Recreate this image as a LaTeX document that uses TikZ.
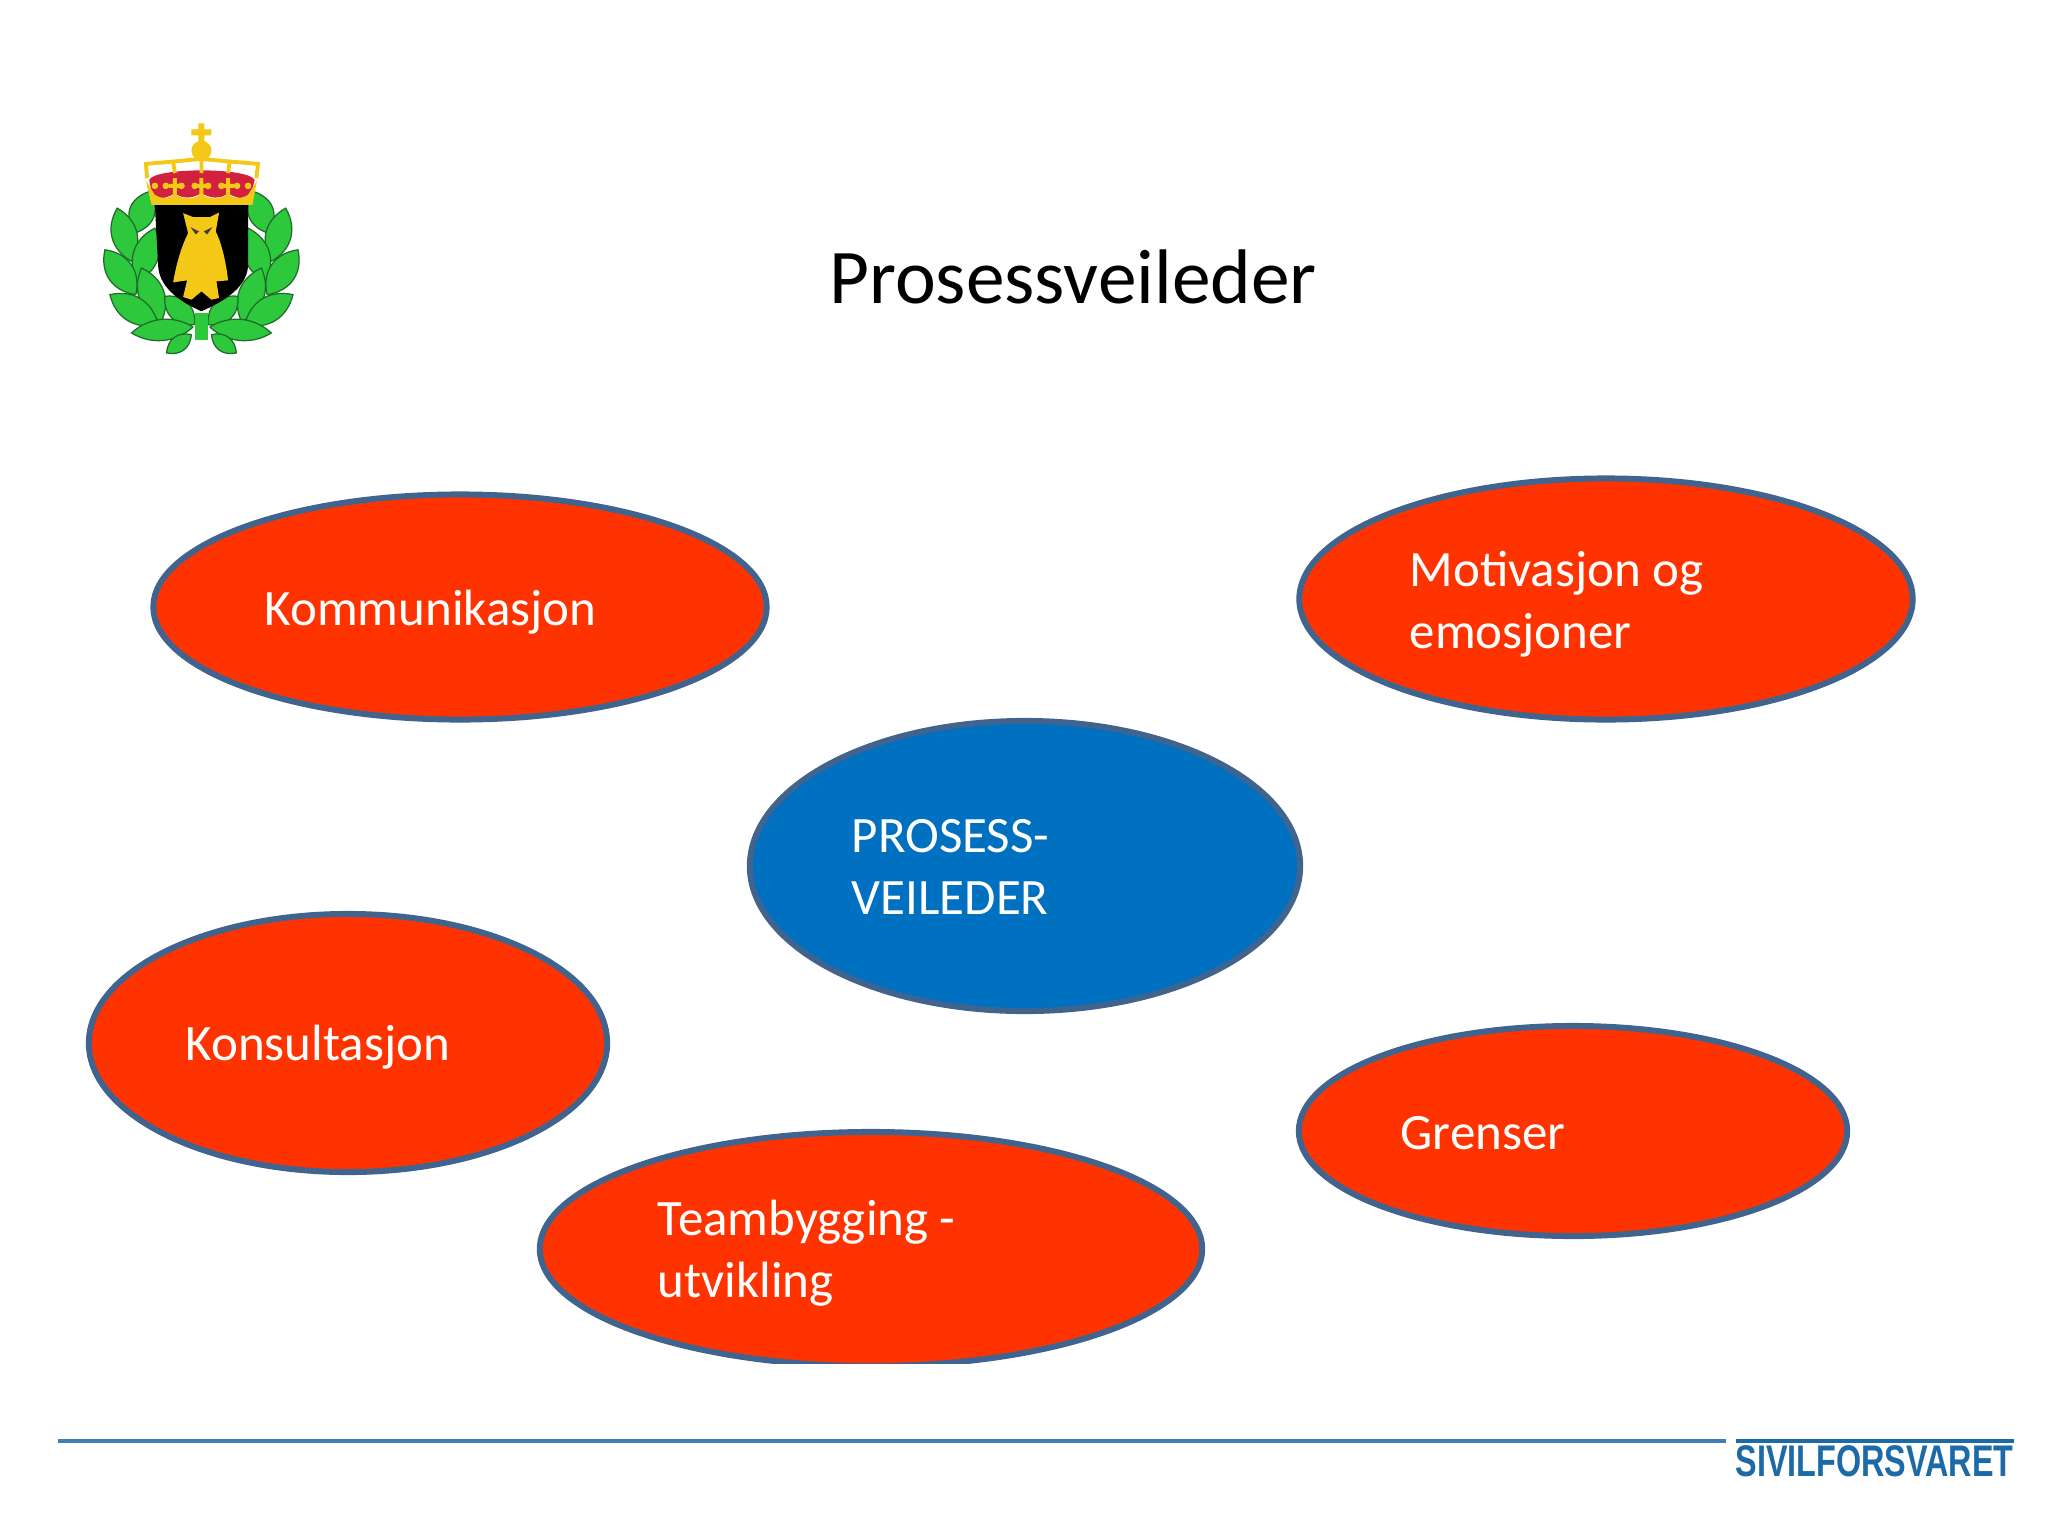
\documentclass[tikz,border=0pt]{standalone}
\usepackage{fontspec}
\setmainfont{Carlito}
\newfontfamily\brandfont{Liberation Sans}
\usepackage{xcolor}
\usetikzlibrary{shapes.geometric, positioning, calc}
\definecolor{oransje}{HTML}{FF3300}
\definecolor{blaa}{HTML}{0070C0}
\definecolor{kant}{HTML}{41648F}
\definecolor{strek}{HTML}{3F7FB3}
\definecolor{merke}{HTML}{1C6BA6}
\definecolor{blad}{HTML}{2DC83C}
\definecolor{bladkant}{HTML}{1E6B2A}
\definecolor{gull}{HTML}{F4C816}
\definecolor{kroneroed}{HTML}{D2203F}
\tikzstyle{oval} = [ellipse, inner sep=0pt, line width=1.7pt, draw=kant, fill=oransje]
\tikzstyle{midtoval} = [oval, fill=blaa]
\tikzstyle{tekst} = [anchor=base west, inner sep=0pt, align=left, text=white, font=\fontsize{14.5}{17.6}\selectfont]
\tikzstyle{leaf} = [fill=blad, draw=bladkant, line width=0.35pt]
\newcommand{\blad}[3]{% base, tip, control offset
  \path[leaf] (#1) .. controls ($(#1)!0.3!(#2)!#3!90:(#2)$) and ($(#1)!0.7!(#2)!#3!90:(#2)$) .. (#2)
    .. controls ($(#1)!0.7!(#2)!#3!-90:(#2)$) and ($(#1)!0.3!(#2)!#3!-90:(#2)$) .. (#1);}
\begin{document}
\begin{tikzpicture}[x=0.01cm, y=-0.01cm]
\useasboundingbox (0,0) rectangle (2048,1536);

% crest
\begin{scope}[shift={(60,90)}, x=0.003333cm, y=-0.003333cm]
\foreach \s in {1,-1} {
\begin{scope}[shift={(425,0)}, xscale=\s, shift={(-425,0)}]
\foreach \ax/\ay/\bx/\by/\w in {225/430/268/305/4.8pt, 215/515/172/355/4.8pt, 232/575/285/415/4.8pt, 228/615/135/480/5pt,
    305/695/245/535/4.8pt, 295/705/150/615/4.8pt, 405/705/315/620/4.2pt, 400/712/215/730/4pt, 395/735/320/790/3pt} {
  \blad{\ax,\ay}{\bx,\by}{\w}
}
\end{scope}
}
\fill[blad] (405,670) rectangle (445,750);
% shield
\fill[black] (285,345) -- (565,345) -- (565,530) .. controls (560,600) and (480,640) .. (425,665)
  .. controls (370,640) and (300,600) .. (295,530) -- cycle;
% owl
\fill[gull] (370,370) -- (400,382) -- (450,382) -- (478,368) -- (468,425) .. controls (490,470) and (500,530) .. (505,572)
  -- (470,575) -- (478,625) -- (455,630) -- (425,605) -- (395,630) -- (370,622) -- (382,572) -- (340,578)
  .. controls (350,520) and (365,470) .. (385,430) -- cycle;
\fill[black!75] (392,412) -- (418,425) -- (408,434) -- cycle;
\fill[black!75] (458,412) -- (432,425) -- (442,434) -- cycle;
% crown
\fill[kroneroed] (268,270) .. controls (285,232) and (565,232) .. (585,270) -- (572,322) .. controls (540,330) and (520,320) .. (505,310)
  .. controls (480,330) and (450,325) .. (425,310) .. controls (400,325) and (370,330) .. (345,310) .. controls (330,320) and (310,330) .. (278,322) -- cycle;
\fill[gull] (258,272) -- (285,315) .. controls (310,330) and (330,325) .. (345,312) .. controls (370,330) and (400,330) .. (425,312)
  .. controls (450,330) and (480,330) .. (505,312) .. controls (520,325) and (540,330) .. (565,315) -- (592,272) -- (578,345) -- (275,345) -- cycle;
\foreach \x in {285,318,365,405,445,485,532,565} \fill[gull] (\x,288) circle (10);
\foreach \x in {345,425,505} \fill[gull] (\x-6,265) rectangle (\x+6,315) (\x-18,282) rectangle (\x+18,294);
\draw[gull, line width=1.1pt] (262,265) -- (258,222) -- (340,215) -- (425,207) -- (510,215) -- (595,222) -- (590,265)
  (340,215) -- (345,250) (425,207) -- (425,250) (510,215) -- (505,250);
\fill[gull] (425,182) circle (30);
\fill[gull] (416,100) rectangle (434,170) (395,118) rectangle (455,136);
\end{scope}

\node (tittel) [inner sep=0pt, font=\fontsize{22}{26}\selectfont] at (1073,277) {Prosessveileder};

% ovals
\node (kommunikasjon) [oval, minimum width=6.13cm, minimum height=2.25cm] at (460,607) {};
\node (motivasjon) [oval, minimum width=6.13cm, minimum height=2.41cm] at (1606,599) {};
\node (veileder) [midtoval, minimum width=5.5cm, minimum height=2.9cm] at (1025,866) {};
\node (konsultasjon) [oval, minimum width=5.18cm, minimum height=2.58cm] at (348,1043) {};
\node (grenser) [oval, minimum width=5.48cm, minimum height=2.1cm] at (1573,1131) {};
\begin{scope}
\clip (0,0) rectangle (2048,1363);
\node (teambygging) [oval, minimum width=6.62cm, minimum height=2.34cm] at (871,1249) {};
\end{scope}

% texts
\node (t1) [tekst] at (264,625) {Kommunikasjon};
\node (t2) [tekst] at (1409,648) {Motivasjon og\\emosjoner};
\node (t3) [tekst] at (851,914) {PROSESS-\\VEILEDER};
\node (t4) [tekst] at (185,1060) {Konsultasjon};
\node (t5) [tekst] at (1400,1149) {Grenser};
\node (t6) [tekst] at (657,1297) {Teambygging -\\utvikling};

% footer
\coordinate (linjestart) at (58,1441);
\coordinate (linjeslutt) at (1726,1441);
\coordinate (merkestart) at (1736,1441);
\coordinate (merkeslutt) at (2014,1441);
\draw[strek, line width=1.1pt] (linjestart) -- (linjeslutt);
\draw[merke, line width=1.1pt] (merkestart) -- (merkeslutt);
\node (sivil) [anchor=base east, inner sep=0pt, text=merke, font=\brandfont\bfseries\fontsize{12.6}{15}\selectfont, xscale=0.73] at (2014,1476) {SIVILFORSVARET};
\end{tikzpicture}
\end{document}
